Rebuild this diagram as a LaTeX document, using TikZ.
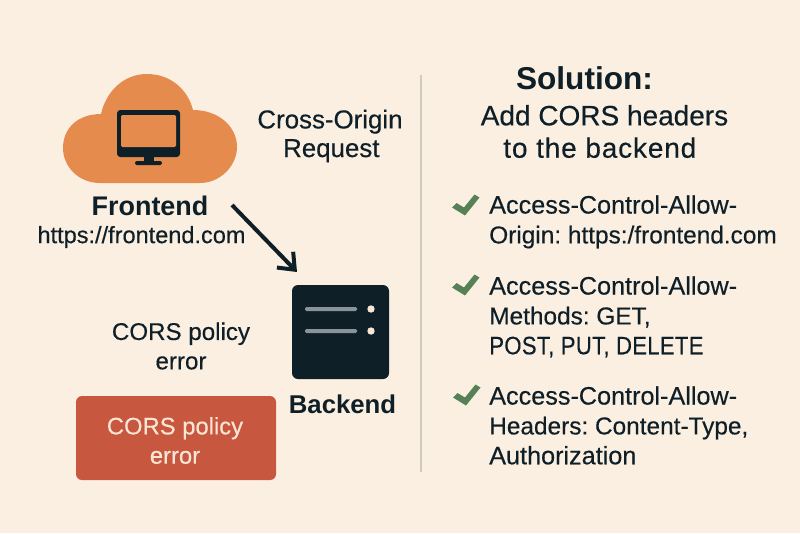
\documentclass[tikz,border=0pt]{standalone}
\usepackage{fontspec}
\setmainfont[FakeBold=0.35]{Liberation Sans}
\newfontfamily\narrowed[FakeStretch=0.88,LetterSpace=1,FakeBold=0.2]{Liberation Sans}
\newfontfamily\loose[LetterSpace=3,FakeBold=0.35]{Liberation Sans}
\newfontfamily\heavy{Liberation Sans Bold}
\usetikzlibrary{arrows.meta}
\definecolor{bgc}{HTML}{FBEFE2}
\definecolor{ink}{HTML}{0E1F28}
\definecolor{cloudc}{HTML}{E58B4E}
\definecolor{redc}{HTML}{C8573F}
\definecolor{redt}{HTML}{FBE6D6}
\definecolor{greenc}{HTML}{568055}
\definecolor{divc}{HTML}{CFCBC2}
\definecolor{barc}{HTML}{8A9399}
\tikzset{
  px/.style={x=0.75pt,y=-0.75pt},
  lbl/.style={text=ink,inner sep=0pt,align=center,font=\fontsize{19.4}{21.5}\selectfont},
  item/.style={text=ink,inner sep=0pt,align=left,anchor=north west,font=\frenchspacing\fontsize{18.9}{22.4}\selectfont},
  tickmark/.pic={\fill[greenc] (452,207.5) -- (456.5,203) -- (464,207.5) -- (474.5,194.5) -- (479.5,197.5) -- (465,215.5) -- cycle;},
}
\newcommand{\smallline}{\fontsize{18.3}{22.4}\selectfont}
\begin{document}
\begin{tikzpicture}[px]
\useasboundingbox (0,0) rectangle (800,533);
\fill[bgc] (0,0) rectangle (800,533);
% cloud
\fill[cloudc] (100,183) .. controls (78,183) and (63,166) .. (63,148)
  .. controls (63,128) and (78,114) .. (101,114)
  .. controls (106,92) and (123,74) .. (147,74)
  .. controls (171,74) and (188,90) .. (193,110)
  .. controls (218,110) and (237,126) .. (237,147)
  .. controls (237,166) and (220,183) .. (200,183) -- cycle;
% monitor
\fill[ink,rounded corners=2.5pt] (117,110) rectangle (180,157);
\fill[cloudc,rounded corners=1pt] (121,115) rectangle (176,147);
\fill[ink] (144,156) rectangle (154,162);
\fill[ink,rounded corners=1.5pt] (135,161) rectangle (162,165);
\node[lbl,font=\fontsize{20.2}{24}\heavy] (frontend) at (150,206) {Frontend};
\node[lbl,font=\fontsize{17.65}{20}\selectfont] (frontendurl) at (141.5,237) {https://frontend.com};
\node[lbl] (request) at (330,136) {Cross-Origin\\\hspace*{2pt}Request};
% backend
\node[fill=ink,rounded corners=4.5pt,minimum width=72.75pt,minimum height=70.5pt,inner sep=0pt] (backend) at (340.5,332) {};
\fill[barc,rounded corners=1pt] (305,307) rectangle (357,311);
\fill[barc,rounded corners=1pt] (305,329) rectangle (357,333);
\fill[redt] (371,309) circle (3.7);
\fill[redt] (371,331) circle (3.7);
\node[lbl,font=\fontsize{19.3}{22}\heavy] (backendlabel) at (342.5,404) {Backend};
\coordinate (arrowstart) at (232,205);
\coordinate (arrowend) at (297,272);
\draw[ink,line width=3pt,-{Straight Barb[length=10.5pt,width=17pt,line width=3pt]}] (arrowstart) -- (arrowend);
\node[lbl,font=\fontsize{18.1}{22}\selectfont] (corslabel) at (181,346) {CORS policy\\error};
\node[fill=redc,rounded corners=4.5pt,minimum width=150pt,minimum height=63pt,inner sep=0pt] (corsbox) at (176,438) {};
\node[lbl,text=redt,font=\fontsize{17.85}{22}\selectfont] (corstext) at (175,440.5) {CORS policy\\error};
% divider
\coordinate (divtop) at (421,75);
\coordinate (divbot) at (421,472);
\draw[divc,line width=1.3pt] (divtop) -- (divbot);
% right
\node[lbl,font=\fontsize{23.7}{28}\heavy] (solution) at (584.5,78) {Solution:};
\node[lbl,font=\fontsize{21}{24.3}\selectfont] (add) at (604.5,131.5) {Add CORS headers\\{\loose to the backend}\hspace*{7pt}};
\node[item] (i1) at (489,195) {Access-Control-Allow-\\{\smallline Origin: https:/frontend.com}};
\node[item] (i2) at (489,276) {Access-Control-Allow-\\{\smallline Methods: GET,}\\{\narrowed POST, PUT, DELETE}};
\node[item] (i3) at (489,386) {Access-Control-Allow-\\{\smallline Headers: Content-Type,}\\Authorization};
\pic at (0,0) {tickmark};
\pic at (0,80) {tickmark};
\pic at (1,190) {tickmark};
\end{tikzpicture}
\end{document}
